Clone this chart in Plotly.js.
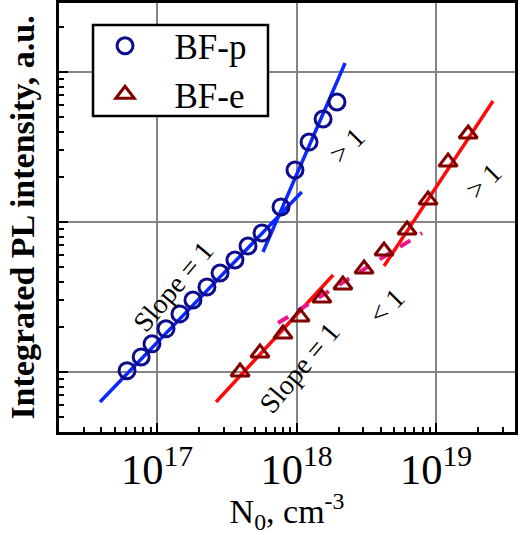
<!DOCTYPE html>
<html>
<head>
<meta charset="utf-8">
<script src="https://cdn.plot.ly/plotly-3.0.1.min.js"></script>
<style>html,body{margin:0;padding:0;background:#fff;}#chart{width:520px;height:535px;}</style>
</head>
<body>
<div id="chart"></div>
<script>
// Measured data (N0 in cm^-3, integrated PL intensity in arbitrary units)
const bfpN = [6.1e16, 7.7e16, 9.2e16, 1.16e17, 1.46e17, 1.81e17, 2.28e17, 2.83e17, 3.62e17, 4.49e17, 5.66e17, 7.74e17, 9.75e17, 1.23e18, 1.55e18, 1.95e18];
const bfpI = [10.2, 12.6, 15.4, 19.4, 24.4, 30.2, 36.9, 45.7, 55.8, 69.2, 84.5, 126, 222, 341, 486, 631];
const bfeN = [3.94e17, 5.47e17, 8.0e17, 1.06e18, 1.52e18, 2.15e18, 3.05e18, 4.24e18, 6.2e18, 8.77e18, 1.22e19, 1.70e19];
const bfeI = [10.0, 13.4, 17.9, 23.3, 31.1, 38.0, 48.6, 64.1, 88.4, 140, 251, 386];

// Fit lines (endpoints)
const bpSlope1N = [3.9e16, 1.09e18];
const bpSlope1I = [6.31, 158.5];
const bpSteepN = [5.75e17, 2.23e18];
const bpSteepI = [63.1, 1148];
const beSlope1N = [2.65e17, 1.83e18];
const beSlope1I = [6.31, 44.3];
const beSteepN = [4.24e18, 2.56e19];
const beSteepI = [50.9, 641];
const beSubN = [7.37e17, 7.94e18];
const beSubI = [21.2, 84.5];

const seriesNames = ['BF-p', 'BF-e'];
const serif = 'Liberation Serif, Times New Roman, serif';
const pad = '\u00A0\u00A0';

const traces = [
  {x: bpSlope1N, y: bpSlope1I, mode: 'lines', line: {color: '#0a28ff', width: 3.5}, showlegend: false, hoverinfo: 'skip'},
  {x: bpSteepN, y: bpSteepI, mode: 'lines', line: {color: '#0a28ff', width: 3.5}, showlegend: false, hoverinfo: 'skip'},
  {x: beSlope1N, y: beSlope1I, mode: 'lines', line: {color: '#ff0a0a', width: 3.5}, showlegend: false, hoverinfo: 'skip'},
  {x: beSteepN, y: beSteepI, mode: 'lines', line: {color: '#ff0a0a', width: 3.5}, showlegend: false, hoverinfo: 'skip'},
  {x: beSubN, y: beSubI, mode: 'lines', line: {color: '#f0148c', width: 4, dash: 'dash'}, showlegend: false, hoverinfo: 'skip'},
  {x: bfpN, y: bfpI, mode: 'markers', name: pad + seriesNames[0],
   marker: {symbol: 'circle-open', size: 16, color: '#0c0c8c', line: {width: 3, color: '#0c0c8c'}}},
  {x: bfeN, y: bfeI, mode: 'markers', name: pad + seriesNames[1],
   marker: {symbol: 'triangle-up-open', size: 16, color: '#800000', line: {width: 3, color: '#800000'}}}
];

const annFont = {family: serif, size: 28, color: '#000'};
const layout = {
  width: 520, height: 535,
  margin: {l: 59, r: 5, t: 3, b: 103},
  paper_bgcolor: '#fff', plot_bgcolor: '#fff',
  font: {family: serif, color: '#000'},
  showlegend: true,
  legend: {
    x: 0.0746, y: 0.9685, xanchor: 'left', yanchor: 'top',
    bgcolor: 'rgba(0,0,0,0)', borderwidth: 0,
    font: {family: serif, size: 35, color: '#000'},
    itemwidth: 54, tracegroupgap: 0
  },
  shapes: [
    {type: 'rect', xref: 'paper', yref: 'paper', x0: 0.0746, x1: 0.4583, y0: 0.7366, y1: 0.9487,
     fillcolor: '#fff', line: {color: '#000', width: 2.5}, layer: 'above'}
  ],
  xaxis: {
    type: 'log', range: [16.2975, 19.566],
    dtick: 1, exponentformat: 'power',
    showgrid: true, gridcolor: '#858585', gridwidth: 2,
    showline: true, linecolor: '#000', linewidth: 3, mirror: true,
    ticks: 'inside', ticklen: 9, tickwidth: 2, tickcolor: '#000',
    minor: {ticks: 'inside', ticklen: 5, tickwidth: 2, tickcolor: '#000', dtick: 'D1', showgrid: false},
    tickfont: {family: serif, size: 34, color: '#000'},
    title: {text: 'N<sub>0</sub>, cm<sup>-3</sup>', font: {family: serif, size: 34, color: '#000'}, standoff: 8},
    zeroline: false
  },
  yaxis: {
    type: 'log', range: [0.6, 3.46],
    dtick: 1, showticklabels: false,
    showgrid: true, gridcolor: '#858585', gridwidth: 2,
    showline: true, linecolor: '#000', linewidth: 3, mirror: true,
    ticks: 'inside', ticklen: 9, tickwidth: 2, tickcolor: '#000',
    minor: {ticks: 'inside', ticklen: 5, tickwidth: 2, tickcolor: '#000', dtick: 'D1', showgrid: false},
    title: {text: '<b>Integrated PL intensity, a.u.</b>', font: {family: serif, size: 34, color: '#000'}, standoff: 12},
    zeroline: false
  },
  annotations: [
    {x: 17.115, y: 1.573, xref: 'x', yref: 'y', text: 'Slope = 1', showarrow: false, textangle: -50, font: annFont},
    {x: 18.025, y: 1.027, xref: 'x', yref: 'y', text: 'Slope = 1', showarrow: false, textangle: -50, font: annFont},
    {x: 18.642, y: 1.44, xref: 'x', yref: 'y', text: '< 1', showarrow: false, textangle: -45, font: annFont},
    {x: 18.362, y: 2.507, xref: 'x', yref: 'y', text: '> 1', showarrow: false, textangle: -45, font: annFont},
    {x: 19.337, y: 2.273, xref: 'x', yref: 'y', text: '> 1', showarrow: false, textangle: -45, font: annFont}
  ]
};

Plotly.newPlot('chart', traces, layout, {displayModeBar: false, staticPlot: true});
</script>
</body>
</html>
